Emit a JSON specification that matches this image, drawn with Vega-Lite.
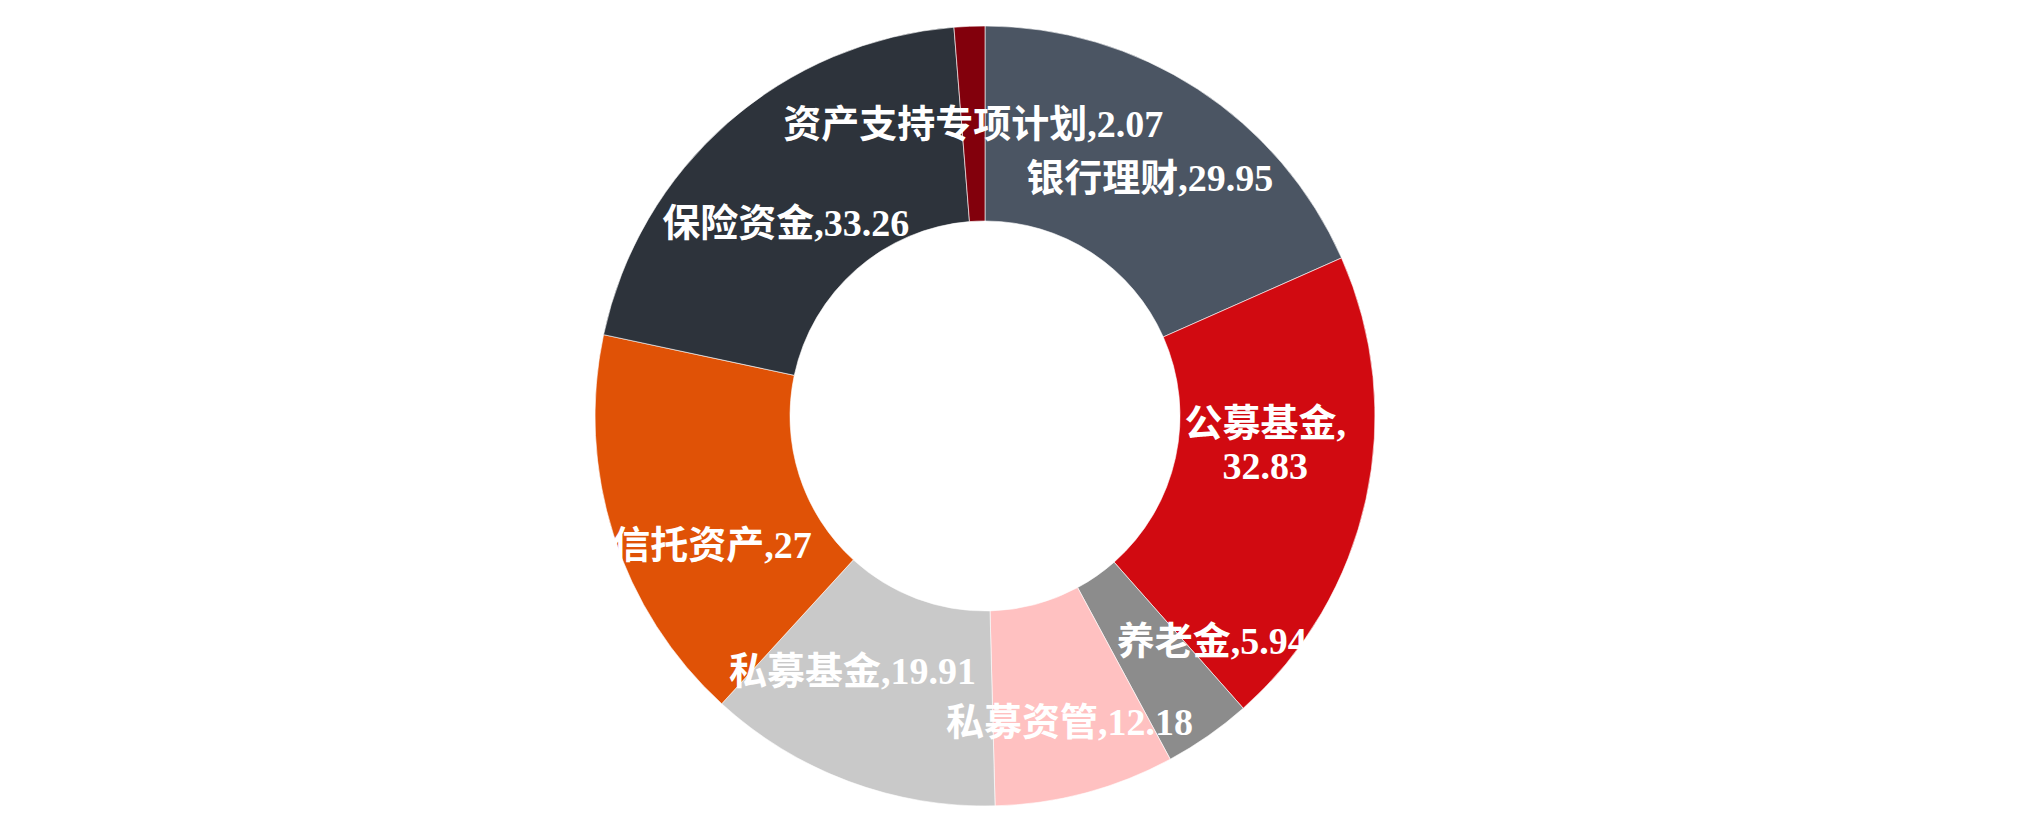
{
  "$schema": "https://vega.github.io/schema/vega-lite/v6.json",
  "width": 2038,
  "height": 826,
  "autosize": {"type": "fit", "contains": "padding"},
  "padding": {"left": 0, "top": 6, "right": 68, "bottom": 0},
  "background": "white",
  "view": {"stroke": null},
  "data": {
    "values": [
      {"name": "银行理财", "value": 29.95, "label": "银行理财,29.95"},
      {"name": "公募基金", "value": 32.83, "label": "公募基金,\n32.83"},
      {"name": "养老金", "value": 5.94, "label": "养老金,5.94"},
      {"name": "私募资管", "value": 12.18, "label": "私募资管,12.18"},
      {"name": "私募基金", "value": 19.91, "label": "私募基金,19.91"},
      {"name": "信托资产", "value": 27, "label": "信托资产,27"},
      {"name": "保险资金", "value": 33.26, "label": "保险资金,33.26"},
      {"name": "资产支持专项计划", "value": 2.07, "label": "资产支持专项计划,2.07"}
    ]
  },
  "transform": [
    {"window": [{"op": "row_number", "as": "rank"}]},
    {"stack": "value", "groupby": [], "sort": [{"field": "rank", "order": "ascending"}], "as": ["v0", "v1"]},
    {"calculate": "(datum.v0 + datum.v1) / 2", "as": "mid"}
  ],
  "layer": [
    {
      "mark": {"type": "arc", "outerRadius": 390, "innerRadius": 195, "stroke": "white", "strokeWidth": 0.6},
      "encoding": {
        "theta": {"field": "v0", "type": "quantitative", "scale": {"domain": [0, 163.14]}},
        "theta2": {"field": "v1"},
        "color": {
          "field": "name",
          "type": "nominal",
          "sort": null,
          "legend": null,
          "scale": {
            "domain": ["银行理财", "公募基金", "养老金", "私募资管", "私募基金", "信托资产", "保险资金", "资产支持专项计划"],
            "range": ["#4b5563", "#d10a11", "#8c8c8c", "#ffc1c1", "#c9c9c9", "#e05206", "#2d333b", "#82000c"]
          }
        }
      }
    },
    {
      "transform": [{"filter": "datum.name === '资产支持专项计划'"}],
      "mark": {"type": "text", "radius": 293, "dx": 0, "dy": 3, "fill": "white", "font": "Liberation Serif, Noto Sans CJK SC", "fontSize": 38, "fontWeight": "bold", "align": "center", "baseline": "middle"},
      "encoding": {"theta": {"field": "mid", "type": "quantitative"}, "text": {"field": "label", "type": "nominal"}}
    },
    {
      "transform": [{"filter": "datum.name === '银行理财'"}],
      "mark": {"type": "text", "radius": 293, "dx": 5, "dy": 10, "fill": "white", "font": "Liberation Serif, Noto Sans CJK SC", "fontSize": 38, "fontWeight": "bold", "align": "center", "baseline": "middle"},
      "encoding": {"theta": {"field": "mid", "type": "quantitative"}, "text": {"field": "label", "type": "nominal"}}
    },
    {
      "transform": [{"filter": "datum.name === '公募基金'"}],
      "mark": {"type": "text", "radius": 293, "dx": -6, "dy": -53, "fill": "white", "font": "Liberation Serif, Noto Sans CJK SC", "fontSize": 38, "fontWeight": "bold", "align": "center", "baseline": "middle", "lineBreak": "\n", "lineHeight": 43},
      "encoding": {"theta": {"field": "mid", "type": "quantitative"}, "text": {"field": "label", "type": "nominal"}}
    },
    {
      "transform": [{"filter": "datum.name === '养老金'"}],
      "mark": {"type": "text", "radius": 293, "dx": 59, "dy": -13, "fill": "white", "font": "Liberation Serif, Noto Sans CJK SC", "fontSize": 38, "fontWeight": "bold", "align": "center", "baseline": "middle"},
      "encoding": {"theta": {"field": "mid", "type": "quantitative"}, "text": {"field": "label", "type": "nominal"}}
    },
    {
      "transform": [{"filter": "datum.name === '私募资管'"}],
      "mark": {"type": "text", "radius": 293, "dx": 9, "dy": 25, "fill": "white", "font": "Liberation Serif, Noto Sans CJK SC", "fontSize": 38, "fontWeight": "bold", "align": "center", "baseline": "middle"},
      "encoding": {"theta": {"field": "mid", "type": "quantitative"}, "text": {"field": "label", "type": "nominal"}}
    },
    {
      "transform": [{"filter": "datum.name === '私募基金'"}],
      "mark": {"type": "text", "radius": 293, "dx": -30, "dy": -17, "fill": "white", "font": "Liberation Serif, Noto Sans CJK SC", "fontSize": 38, "fontWeight": "bold", "align": "center", "baseline": "middle"},
      "encoding": {"theta": {"field": "mid", "type": "quantitative"}, "text": {"field": "label", "type": "nominal"}}
    },
    {
      "transform": [{"filter": "datum.name === '信托资产'"}],
      "mark": {"type": "text", "radius": 293, "dx": 6, "dy": 42, "fill": "white", "font": "Liberation Serif, Noto Sans CJK SC", "fontSize": 38, "fontWeight": "bold", "align": "center", "baseline": "middle"},
      "encoding": {"theta": {"field": "mid", "type": "quantitative"}, "text": {"field": "label", "type": "nominal"}}
    },
    {
      "transform": [{"filter": "datum.name === '保险资金'"}],
      "mark": {"type": "text", "radius": 293, "dx": -6, "dy": 29, "fill": "white", "font": "Liberation Serif, Noto Sans CJK SC", "fontSize": 38, "fontWeight": "bold", "align": "center", "baseline": "middle"},
      "encoding": {"theta": {"field": "mid", "type": "quantitative"}, "text": {"field": "label", "type": "nominal"}}
    }
  ]
}
